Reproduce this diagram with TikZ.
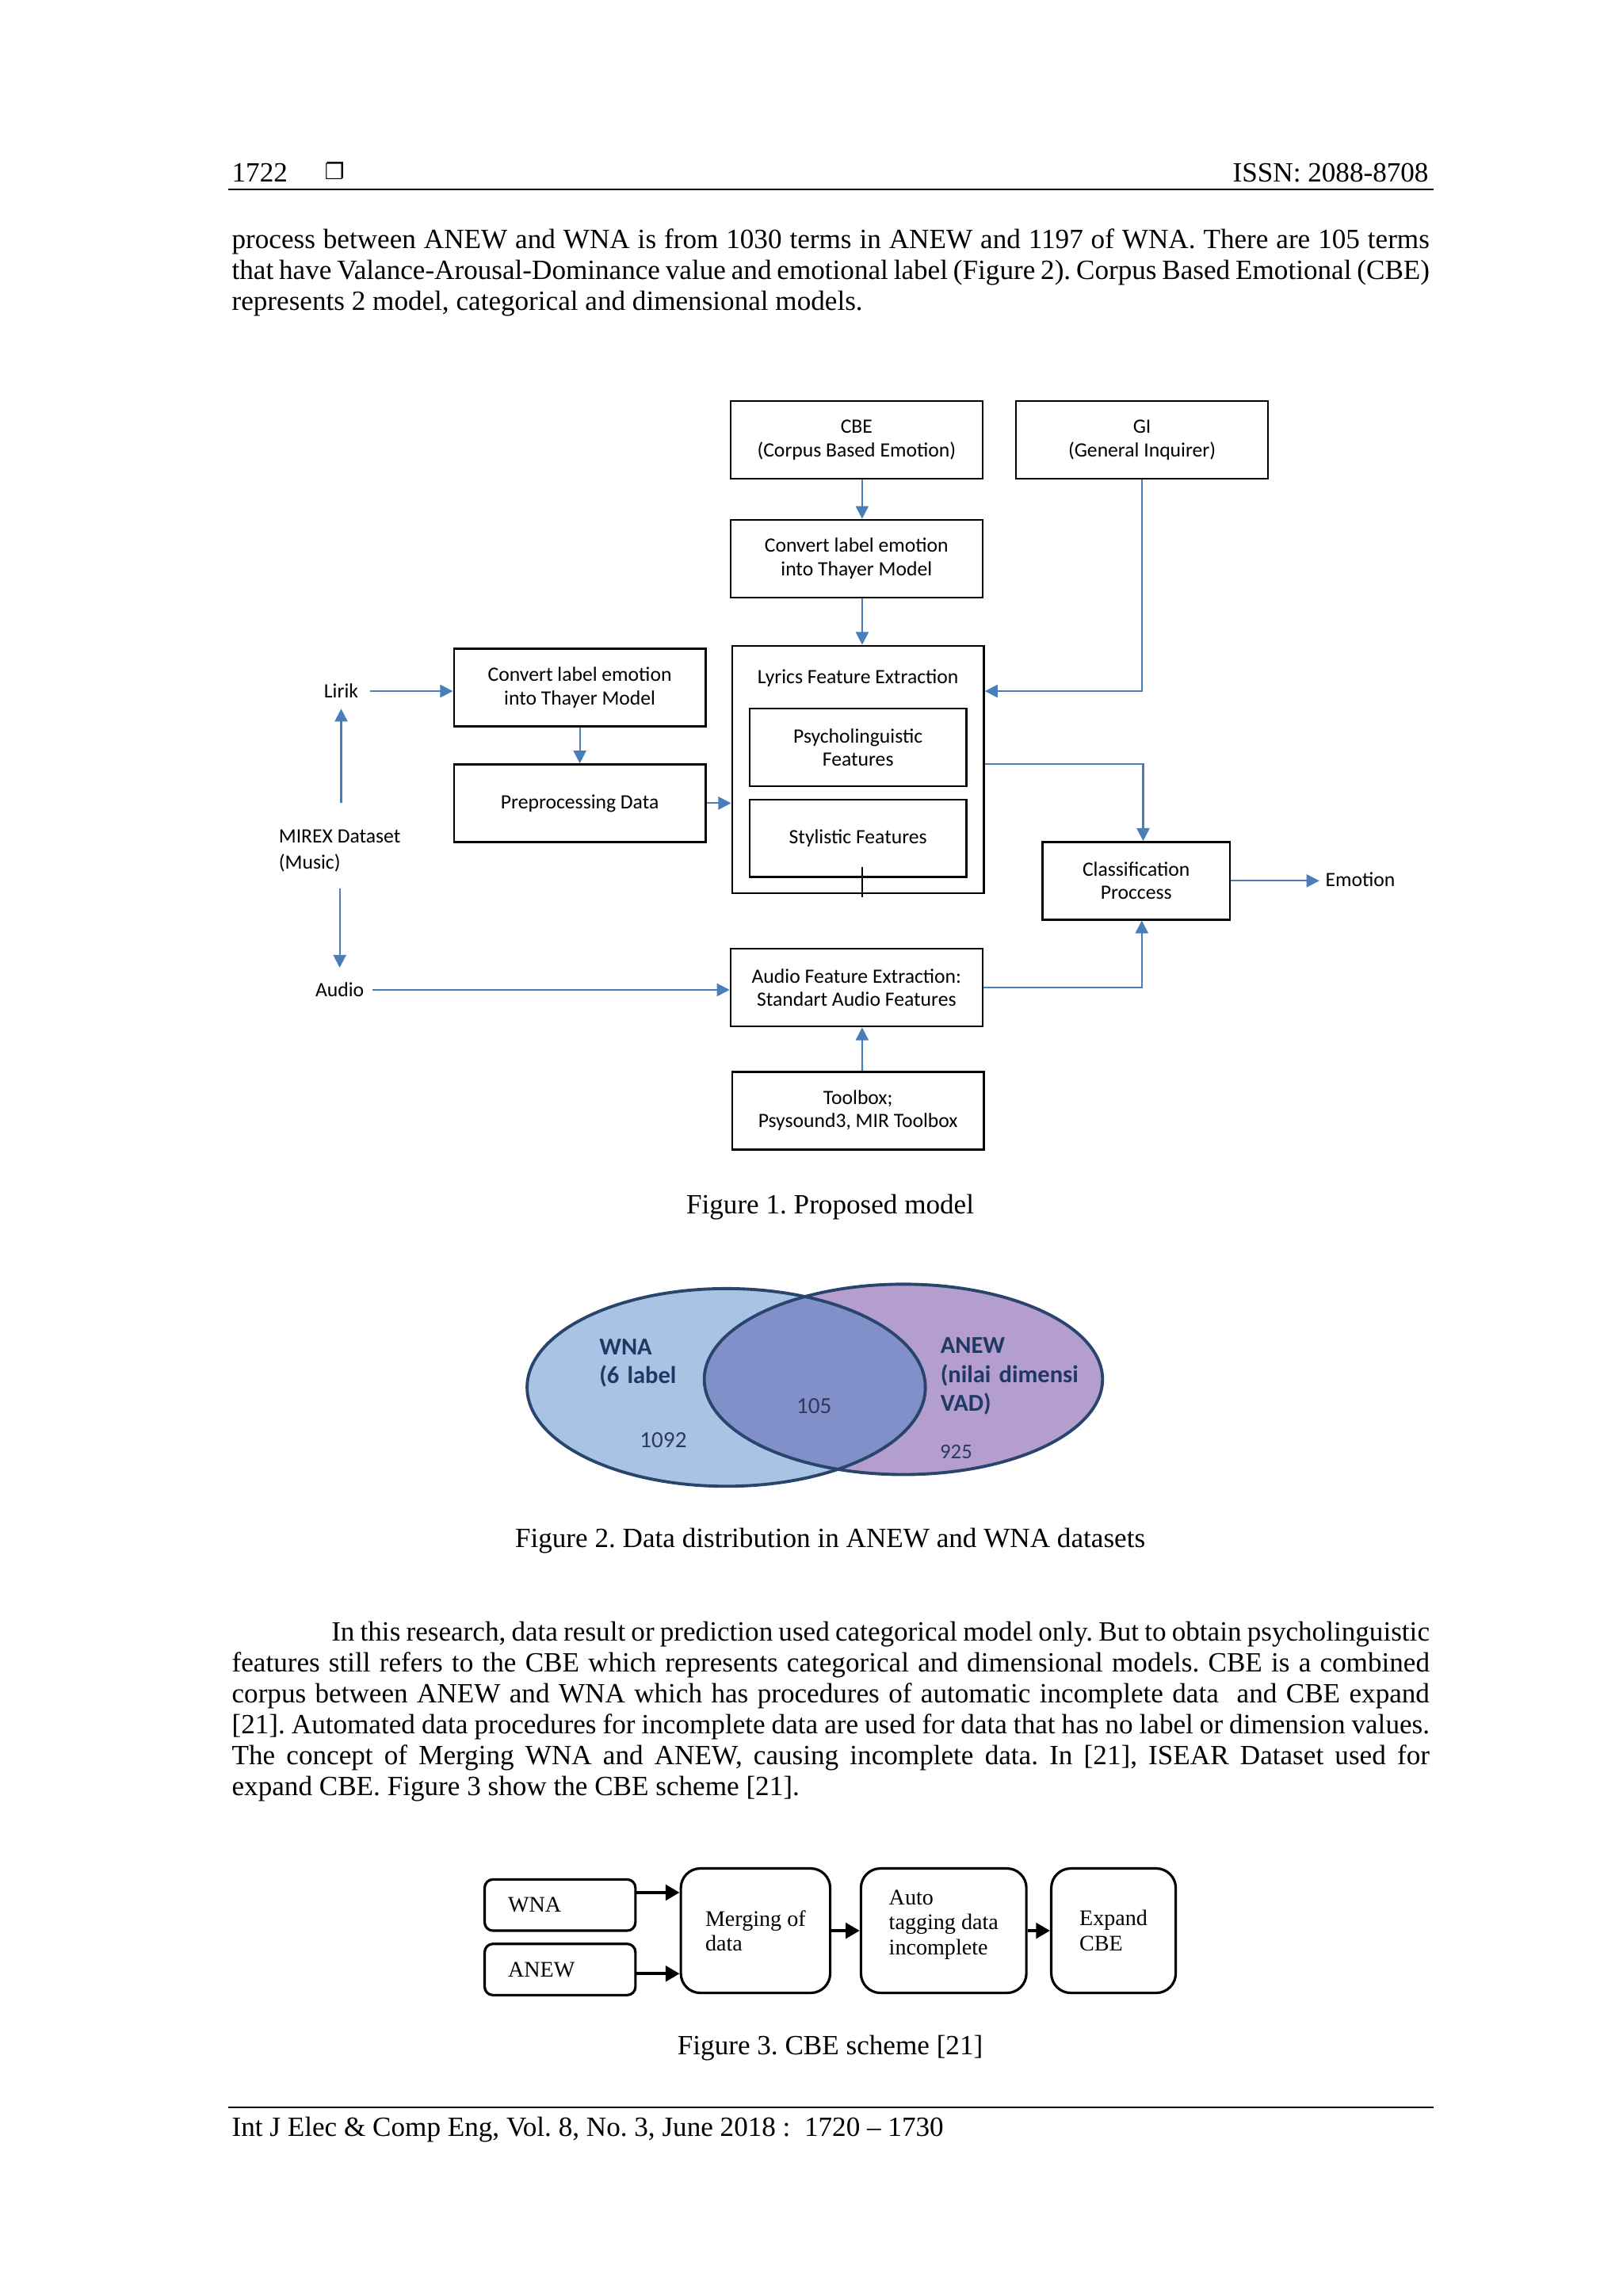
\documentclass[tikz,border=0pt]{standalone}
\usepackage{fontspec}
\setmainfont{Liberation Serif}
\newfontfamily\calibri{Carlito}
\newfontfamily\symfont{DejaVu Sans}
\usetikzlibrary{arrows.meta,positioning}
\frenchspacing
\definecolor{arrblue}{RGB}{74,126,187}
\definecolor{venntxt}{RGB}{31,56,100}
\definecolor{vennnum}{RGB}{45,58,92}
\definecolor{vennline}{RGB}{41,69,110}
\definecolor{wnafill}{RGB}{169,195,228}
\definecolor{anewfill}{RGB}{179,158,206}
\definecolor{bothfill}{RGB}{129,144,200}
\newcommand\pxu{0.18484mm}
\tikzset{
  fbox/.style={draw, line width=0.7pt, minimum width=172*\pxu, minimum height=53*\pxu,
    inner sep=1pt, align=center, font=\calibri\fontsize{7.3}{8.4}\selectfont},
  flabel/.style={inner sep=1pt, font=\calibri\fontsize{7.3}{8.4}\selectfont},
  barr/.style={draw=arrblue, line width=0.6pt, -{Triangle[length=4.6pt,width=4.6pt]}},
  sboxs/.style={draw, line width=0.9pt, rounded corners=3pt, minimum height=35*\pxu,
    text width=71*\pxu, inner xsep=16*\pxu, align=left, font=\fontsize{8}{9}\selectfont},
  sbox/.style={draw, line width=0.9pt, rounded corners=7pt, minimum height=85*\pxu,
    align=left, font=\fontsize{8}{9}\selectfont},
  karr/.style={line width=1.1pt, -{Triangle[length=5pt,width=5.5pt]}},
  bodytext/.style={anchor=base west, inner sep=0pt, text width=818*\pxu, align=justify,
    font=\fontsize{10}{11.1}\selectfont},
  pagetext/.style={inner sep=0pt, font=\fontsize{10}{11.1}\selectfont},
  vennbold/.style={anchor=base west, inner sep=0pt, text width=120*\pxu, align=left,
    text=venntxt, font=\calibri\bfseries\fontsize{8.7}{10.5}\selectfont},
  vennnumber/.style={inner sep=0pt, text=vennnum, font=\calibri\fontsize{8.3}{10}\selectfont},
}
\begin{document}
\begin{tikzpicture}[x=\pxu, y=-\pxu]
\useasboundingbox (0,0) rectangle (1108,1568);

% page head and foot
\node[pagetext, anchor=base west] (pageno) at (158,124) {1722};
\node[inner sep=0pt, font=\symfont\fontsize{8}{8}\selectfont] (headbox) at (228.5,116.5) {❐};
\node[pagetext, anchor=base east] (issn) at (976,124) {ISSN: 2088-8708};
\draw[line width=0.6pt] (156,129.3) -- (979,129.3);
\draw[line width=0.6pt] (156,1439) -- (979,1439);
\node[pagetext, anchor=base west] (journal) at (158,1459) {Int J Elec \& Comp Eng, Vol. 8, No. 3, June 2018 :\ \ 1720 -- 1730};

\node[bodytext] (paraA) at (158,169.5) {process between ANEW and WNA is from 1030 terms in ANEW and 1197 of WNA. There are 105 terms\linebreak{}
that have Valance-Arousal-Dominance value and emotional label (Figure 2). Corpus Based Emotional (CBE)\linebreak{}
represents 2 model, categorical and dimensional models.};

% figure 1
\node[fbox] (cbe) at (585,300.5) {CBE\\(Corpus Based Emotion)};
\node[fbox] (gi) at (780,300.5) {GI\\(General Inquirer)};
\node[fbox] (thayerA) at (585,381.5) {Convert label emotion\\into Thayer Model};
\node[fbox, minimum height=169*\pxu] (lyrics) at (586,525.5) {};
\node[flabel] (lyricstitle) at (586,463) {Lyrics Feature Extraction};
\node[fbox, minimum width=148*\pxu] (psy) at (586,510.5) {Psycholinguistic\\Features};
\node[fbox, minimum width=148*\pxu] (styl) at (586,572.5) {Stylistic Features};
\node[fbox] (thayerB) at (396,469.5) {Convert label emotion\\into Thayer Model};
\node[fbox] (prep) at (396,548.5) {Preprocessing Data};
\node[fbox] (afx) at (585,674.5) {Audio Feature Extraction:\\Standart Audio Features};
\node[fbox] (tool) at (586,758.5) {Toolbox;\\Psysound3, MIR Toolbox};
\node[fbox, minimum width=128*\pxu] (cls) at (776,601.5) {Classification\\Proccess};
\node[flabel] (lirik) at (233,472) {Lirik};
\node[flabel, align=left, font=\calibri\fontsize{7.3}{9.4}\selectfont] (mirex) at (232,581) {MIREX Dataset\\(Music)};
\node[flabel] (audio) at (232,676) {Audio};
\node[flabel, anchor=west] (emotion) at (903,600.5) {Emotion};

\draw[barr] ([xshift=2pt]cbe.south) -- ([xshift=2pt]thayerA.north);
\draw[barr] ([xshift=2pt]thayerA.south) -- ([xshift=1.5pt]lyrics.north);
\draw[barr] (gi.south) |- (lyrics.east |- lirik);
\draw[barr, shorten <=3pt] (lirik.east) -- (thayerB.west |- lirik.east);
\draw[barr] (thayerB.south) -- (prep.north);
\draw[barr] (prep.east) -- (lyrics.west |- prep.east);
\draw[barr, shorten <=8.4pt, shorten >=2.6pt] (lirik.south |- mirex.north) -- (lirik.south);
\draw[barr, shorten <=4.7pt, shorten >=4.2pt] (mirex.south) -- (mirex.south |- audio.north);
\draw[barr, shorten <=2pt] (audio.east) -- (afx.west |- audio.east);
\draw[barr] ([xshift=1.5pt]tool.north) -- ([xshift=2pt]afx.south);
\draw[barr] ([yshift=2pt]lyrics.east) -| ([xshift=2.5pt]cls.north);
\draw[barr] (afx.east) -| ([xshift=2pt]cls.south);
\draw[barr, shorten >=1pt] (cls.east) -- (emotion.west |- cls.east);
\draw[line width=0.5pt] ([xshift=1.5pt,yshift=4pt]styl.south) -- ([xshift=1.5pt,yshift=-1pt]lyrics.south);

\node[pagetext, anchor=base] (capA) at (567,829) {Figure 1. Proposed model};

% figure 2
\fill[wnafill] (496,947.5) ellipse [x radius=136, y radius=67.5];
\fill[anewfill] (617,942) ellipse [x radius=136, y radius=65];
\begin{scope}
\clip (496,947.5) ellipse [x radius=136, y radius=67.5];
\fill[bothfill] (617,942) ellipse [x radius=136, y radius=65];
\end{scope}
\draw[vennline, line width=1.1pt] (496,947.5) ellipse [x radius=136, y radius=67.5];
\draw[vennline, line width=1.1pt] (617,942) ellipse [x radius=136, y radius=65];
\node[vennbold] (wnatxt) at (409,925) {WNA\\(6 label};
\node[vennbold] (anewtxt) at (642,924) {ANEW\\(nilai dimensi\\VAD)};
\node[vennnumber] (both) at (556,960.5) {105};
\node[vennnumber] (onlywna) at (453,983.5) {1092};
\node[vennnumber, font=\calibri\fontsize{7.6}{9}\selectfont] (onlyanew) at (653,991.5) {925};

\node[pagetext, anchor=base] (capB) at (567,1057) {Figure 2. Data distribution in ANEW and WNA datasets};

\node[bodytext] (paraB) at (158,1120.5) {\hspace*{12.57mm}In this research, data result or prediction used categorical model only. But to obtain psycholinguistic\linebreak{}
features still refers to the CBE which represents categorical and dimensional models. CBE is a combined\linebreak{}
corpus between ANEW and WNA which has procedures of automatic incomplete data\ \ and CBE expand\linebreak{}
{[21]}. Automated data procedures for incomplete data are used for data that has no label or dimension values.\linebreak{}
The concept of Merging WNA and ANEW, causing incomplete data. In [21], ISEAR Dataset used for\linebreak{}
expand CBE. Figure 3 show the CBE scheme [21].};

% figure 3
\node[sboxs] (wna) at (382.5,1301) {WNA};
\node[sboxs] (anew) at (382.5,1345) {ANEW};
\node[sbox, minimum width=102*\pxu] (merge) at (516,1318.5) {Merging of\\data};
\node[sbox, minimum width=113*\pxu] (auto) at (644.5,1318.5) {Auto\\tagging data\\incomplete\\[-3pt]};
\node[sbox, minimum width=85*\pxu] (expand) at (760.5,1318.5) {Expand\\CBE};
\draw[karr] ([yshift=4.5pt]wna.east) -- ([yshift=4.5pt]wna.east -| merge.west);
\draw[karr] ([yshift=-1.5pt]anew.east) -- ([yshift=-1.5pt]anew.east -| merge.west);
\draw[karr] (merge.east) -- (auto.west);
\draw[karr] (auto.east) -- (expand.west);

\node[pagetext, anchor=base] (capC) at (567,1403) {Figure 3. CBE scheme [21]};
\end{tikzpicture}
\end{document}
